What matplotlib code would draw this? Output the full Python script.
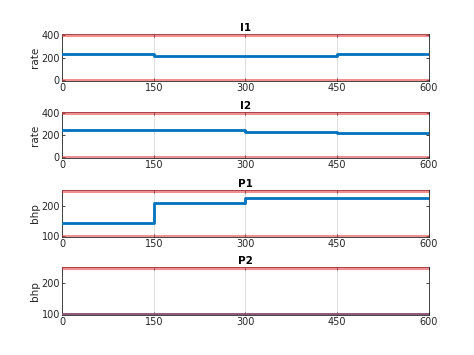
import matplotlib
matplotlib.use('Agg')
import matplotlib.pyplot as plt

# step times (segment edges)
t = [0, 150, 300, 450, 600]

# piecewise-constant controls per segment (last value repeated for the step end)
i1_rate = [235, 215, 215, 235, 235]
i2_rate = [250, 250, 230, 220, 220]
p1_bhp = [145, 210, 227, 227, 227]
p2_bhp = [100, 100, 100, 100, 100]

rate_limits = [0, 400]
bhp_limits = [100, 250]

titles = ['I1', 'I2', 'P1', 'P2']
ylabels = ['rate', 'rate', 'bhp', 'bhp']

MBLUE = '#0072BD'
AXCOL = '#262626'

plt.rcParams['font.family'] = 'DejaVu Sans'
plt.rcParams['font.size'] = 7

fig = plt.figure(figsize=(4.74, 3.55), dpi=100)

W, H = 474.0, 355.0
# (top, bottom) pixel rows of each panel
rows = [(34, 81), (112, 158), (190, 237), (267, 315)]
left, right = 62, 429

series = [i1_rate, i2_rate, p1_bhp, p2_bhp]
limits = [rate_limits, rate_limits, bhp_limits, bhp_limits]
ylims = [(-10, 410), (-10, 410), (97, 253), (97, 253)]
yticks = [[0, 200, 400], [0, 200, 400], [100, 200], [100, 200]]

for k in range(4):
    top, bot = rows[k]
    ax = fig.add_axes([left / W, 1 - bot / H, (right - left) / W, (bot - top) / H])
    ax.step(t, series[k], where='post', color=MBLUE, lw=2, zorder=3)
    for lim in limits[k]:
        ax.axhline(lim, color='#e8474a', lw=2.2, alpha=0.6, zorder=4)
    ax.set_xlim(0, 600)
    ax.set_ylim(*ylims[k])
    ax.set_xticks(t)
    ax.set_yticks(yticks[k])
    ax.grid(axis='x', color='#d9d9d9', lw=0.6)
    ax.set_title(titles[k], fontsize=7.5, fontweight='bold', pad=2.5)
    ax.set_ylabel(ylabels[k], fontsize=7.5, color=AXCOL, labelpad=1)
    ax.tick_params(direction='in', length=2.5, width=0.6, top=True, right=True,
                   colors=AXCOL, labelsize=7, pad=1.5)
    for s in ax.spines.values():
        s.set_color(AXCOL)
        s.set_linewidth(0.6)

fig.savefig('out.png', dpi=100)
